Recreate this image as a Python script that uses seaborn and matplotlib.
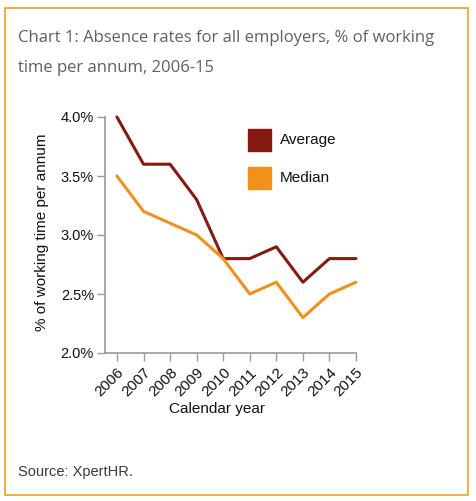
import numpy as np
import pandas as pd
import matplotlib
matplotlib.use("Agg")
import matplotlib.pyplot as plt
import seaborn as sns
from matplotlib.patches import Rectangle

# Data
years = [2006, 2007, 2008, 2009, 2010, 2011, 2012, 2013, 2014, 2015]
average = [4.0, 3.6, 3.6, 3.3, 2.8, 2.8, 2.9, 2.6, 2.8, 2.8]
median = [3.5, 3.2, 3.1, 3.0, 2.8, 2.5, 2.6, 2.3, 2.5, 2.6]
yticks = [2.0, 2.5, 3.0, 3.5, 4.0]

df = pd.DataFrame({"year": years, "Average": average, "Median": median})
long = df.melt(id_vars="year", var_name="series", value_name="rate")

sns.set_style("white")
plt.rcParams["font.family"] = ["Liberation Sans", "DejaVu Sans"]

colors = {"Average": "#861a12", "Median": "#f39019"}
W, H = 476, 501
fig = plt.figure(figsize=(W / 100, H / 100), dpi=100)

# orange frame
fig.patches.append(Rectangle((5 / W, 1 - 495 / H), 463 / W, 487 / H,
                             transform=fig.transFigure, fill=False,
                             edgecolor="#f5a01a", linewidth=1.2))

ax = fig.add_axes([105 / W, 1 - 353 / H, 251 / W, 236 / H])
sns.lineplot(data=long, x="year", y="rate", hue="series", palette=colors,
             linewidth=2.2, ax=ax, legend=False)
for l in ax.lines:
    l.set_clip_on(False)

ax.set_xlim(2005.55, 2015)
ax.set_ylim(2.0, 4.0)
ax.set_xticks(years)
ax.set_xticklabels([str(y) for y in years], rotation=45, ha="right",
                   rotation_mode="anchor", fontsize=11)
ax.set_yticks(yticks)
ax.set_yticklabels(["%.1f%%" % v for v in yticks], fontsize=10.5)
ax.tick_params(axis="both", length=6, width=1, color="#999999", pad=2,
               labelcolor="#111111")
ax.tick_params(axis="x", bottom=True, pad=3)
ax.tick_params(axis="y", left=True)
for s in ["top", "right"]:
    ax.spines[s].set_visible(False)
for s in ["left", "bottom"]:
    ax.spines[s].set_color("#999999")
    ax.spines[s].set_linewidth(1.2)
ax.set_xlabel("")
ax.set_ylabel("")

# legend squares
for i, name in enumerate(["Average", "Median"]):
    y0 = 129 + i * 38
    fig.patches.append(Rectangle((248 / W, 1 - (y0 + 22) / H), 23 / W, 22 / H,
                                 transform=fig.transFigure,
                                 facecolor=colors[name], edgecolor=colors[name]))
    fig.text(280 / W, 1 - (y0 + 11) / H, name, fontsize=11, va="center",
             ha="left", color="#111111")

fig.text(42 / W, 1 - 232 / H, "% of working time per annum", rotation=90,
         fontsize=11, ha="center", va="center", color="#111111")
fig.text(217 / W, 1 - 409 / H, "Calendar year", fontsize=11, ha="center",
         va="center", color="#111111")

title_font = dict(fontsize=12.0, ha="left", va="center", color="#606060",
                  family=["Open Sans", "DejaVu Sans"], fontweight="medium")
fig.text(18 / W, 1 - 38 / H,
         "Chart 1: Absence rates for all employers, % of working", **title_font)
fig.text(18 / W, 1 - 68 / H, "time per annum, 2006-15", **title_font)
fig.text(18 / W, 1 - 472 / H, "Source: XpertHR.", fontsize=10.5, ha="left",
         va="center", color="#3a3a3a")

fig.savefig("out.png", dpi=100)
